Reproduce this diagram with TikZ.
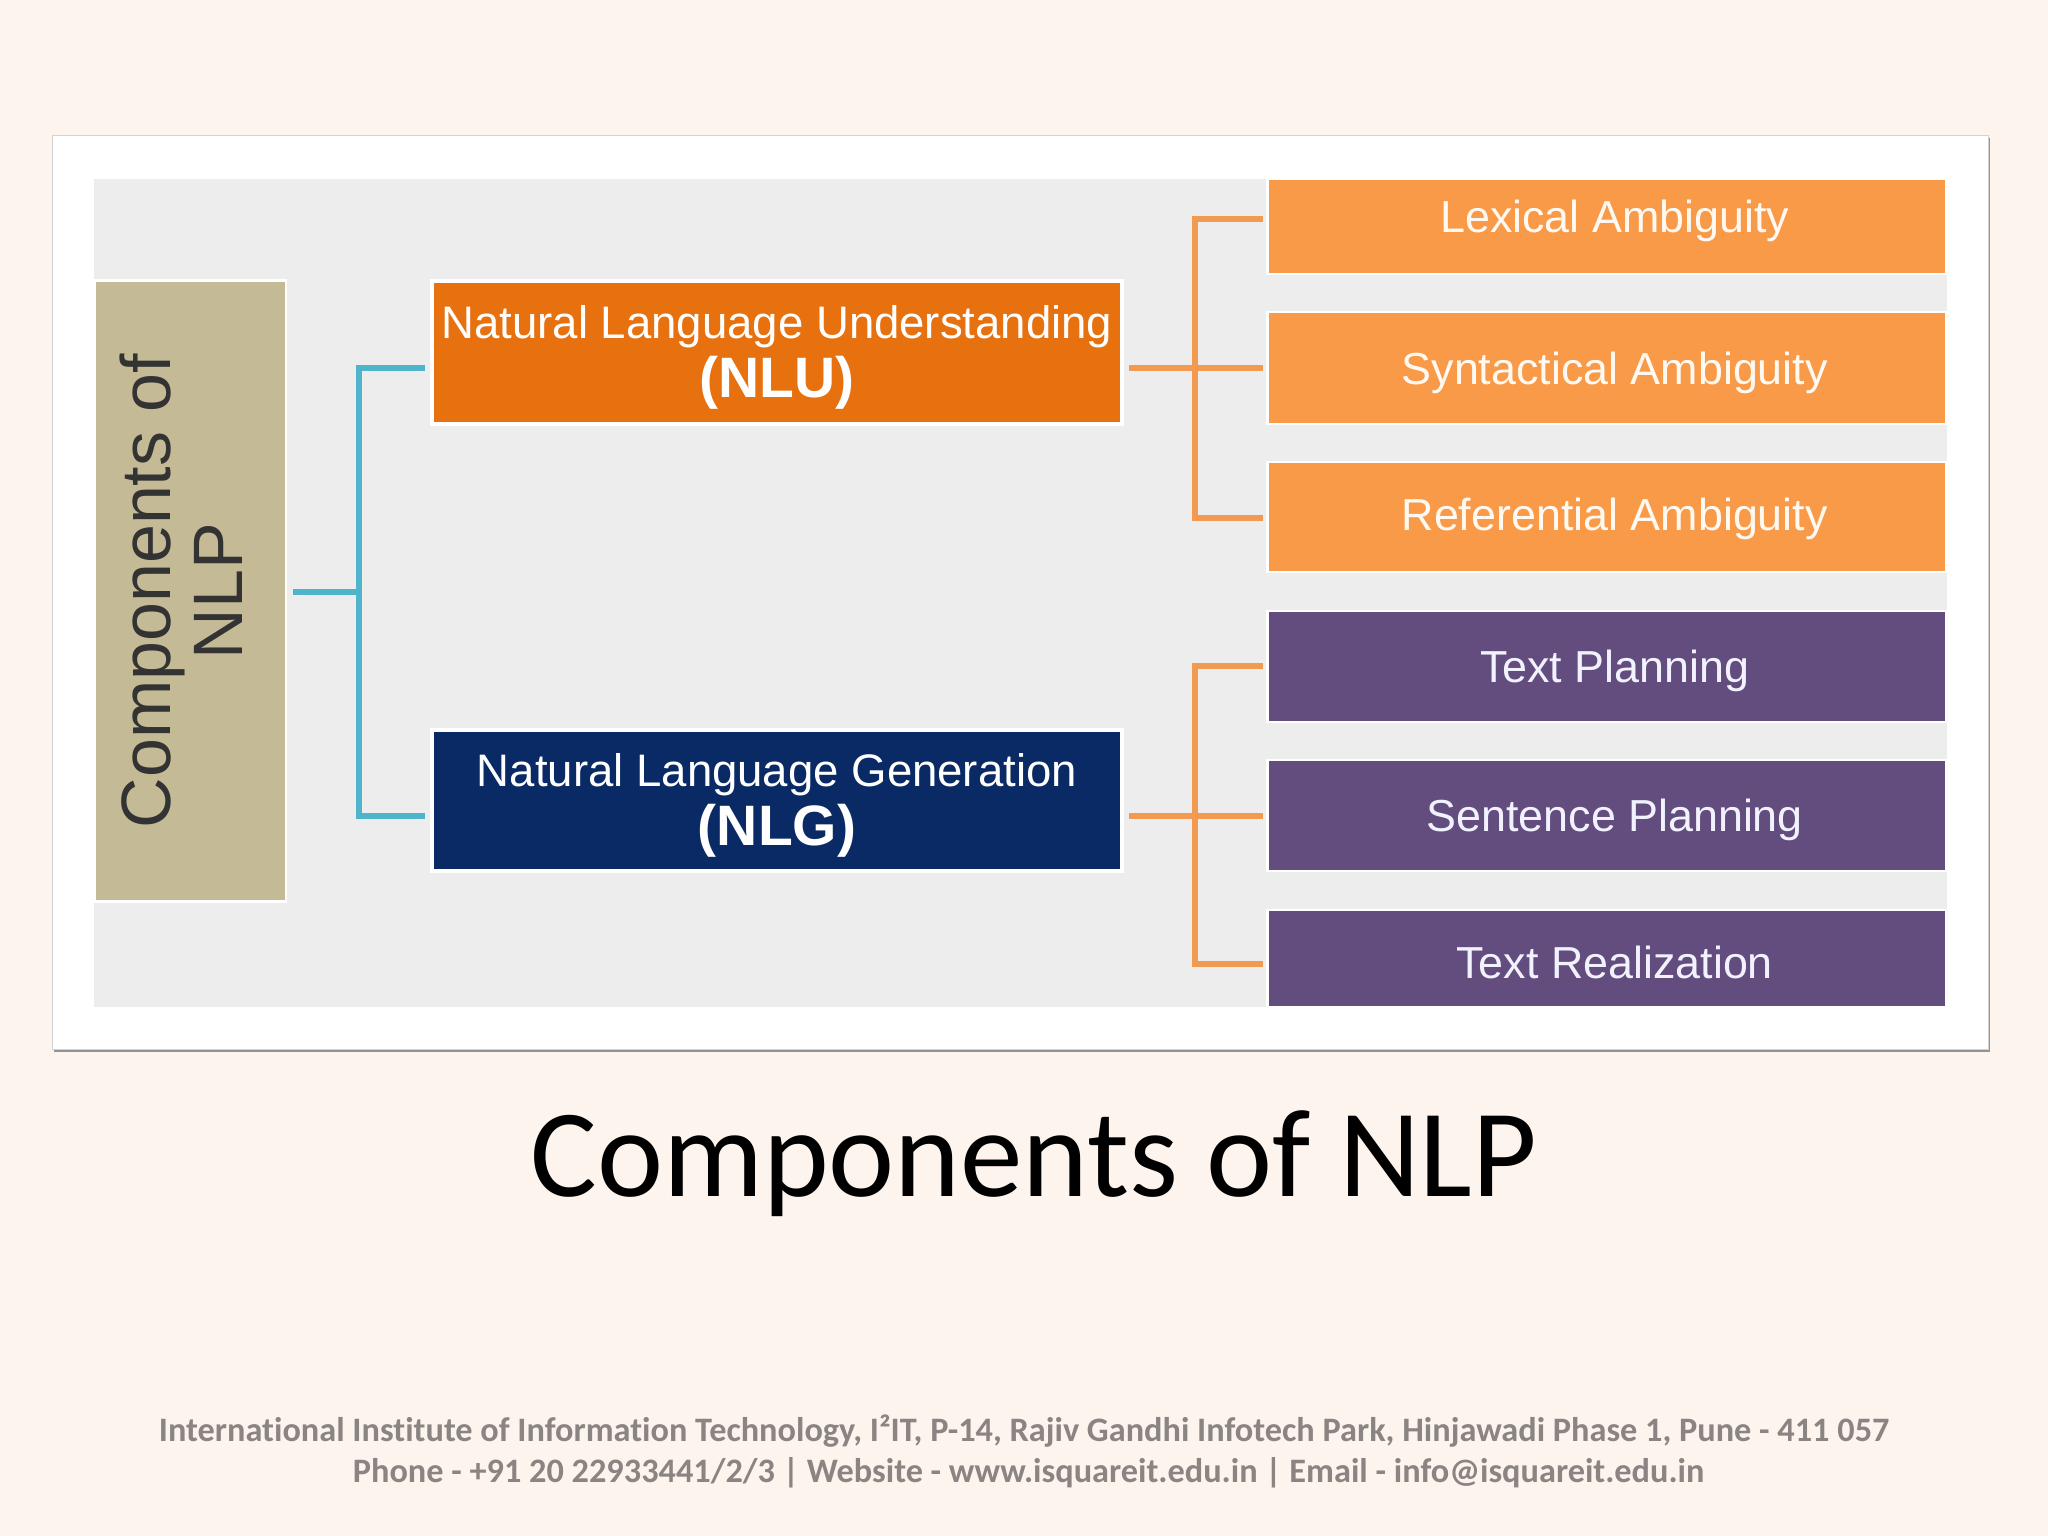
\documentclass[tikz,border=0pt]{standalone}
\usepackage{fontspec}
\setmainfont[Ligatures=CommonOff]{Carlito}
\newfontfamily\boxfont{Liberation Sans}
\usetikzlibrary{shadows,positioning}
\definecolor{pagebg}{HTML}{FEF4EE}
\definecolor{panelgrey}{HTML}{EDEDEE}
\definecolor{tan}{HTML}{C4BB96}
\definecolor{nluorange}{HTML}{E8710F}
\definecolor{nlgblue}{HTML}{0A2A66}
\definecolor{ambiorange}{HTML}{F89A48}
\definecolor{planpurple}{HTML}{634D7E}
\definecolor{tealline}{HTML}{4FB3CB}
\definecolor{orangeline}{HTML}{F39A52}
\definecolor{footgrey}{HTML}{8A8582}
\newcommand{\shortname}[1]{{\fontsize{16.2}{18.4}\selectfont\textbf{(#1)}}}

\begin{document}
\begin{tikzpicture}[x=0.01cm,y=-0.01cm,
  card/.style={rectangle,fill=white,draw=gray!35,line width=0.3pt,general shadow={fill=gray!85,shadow xshift=0.4pt,shadow yshift=-0.7pt},inner sep=0pt},
  mainbox/.style={rectangle,draw=white,line width=1pt,outer sep=2pt,inner sep=0pt,text=white,align=center,minimum width=6.9cm,font=\boxfont\fontsize{12.95}{15.4}\selectfont},
  ambi/.style={rectangle,fill=ambiorange,draw=white,line width=0.8pt,outer sep=1.5pt,inner sep=0pt,text=white!95!orange,minimum width=6.78cm,execute at begin node={\hspace*{4.4pt}},font=\boxfont\fontsize{12.75}{14}\selectfont},
  plan/.style={ambi,fill=planpurple,text=white!95!blue},
  midtext/.style={text height=20.4pt,text depth=11.2pt},
  tree/.style={tealline,line width=1.6pt},
  branch/.style={orangeline,line width=1.6pt}]
\useasboundingbox (0,0) rectangle (2048,1536);
\fill[pagebg] (0,0) rectangle (2048,1536);

\node[card,minimum width=19.345cm,minimum height=9.13cm] (frame) at (1020.75,592.5) {};
\node[rectangle,fill=panelgrey,inner sep=0pt,minimum width=18.51cm,minimum height=8.28cm] (panel) at (1020.5,593) {};

\node[rectangle,rotate=90,fill=tan,draw=white,line width=0.8pt,outer sep=2pt,inner sep=0pt,align=center,text=black!80,minimum width=6.2cm,minimum height=1.91cm,font=\boxfont\fontsize{19.9}{20.5}\selectfont] (comp) at (190.5,591) {Components of\\\rule[-5.2pt]{0pt}{0pt}NLP};

\node[mainbox,fill=nluorange,minimum height=1.43cm] (nlu) at (777,352.5) {\rule{0pt}{12.3pt}Natural Language Understanding\\[1.5pt]\shortname{NLU}};
\node[mainbox,fill=nlgblue,minimum height=1.41cm] (nlg) at (777,800.5) {\rule{0pt}{12.3pt}Natural Language Generation\\[1.5pt]\shortname{NLG}};

\node[ambi,minimum height=0.95cm,text height=15.3pt,text depth=11.7pt] (lex) at (1607,226.5) {Lexical Ambiguity};
\node[ambi,midtext,minimum height=1.12cm] (syn) at (1607,368) {Syntactical Ambiguity};
\node[ambi,minimum height=1.10cm,text height=19.55pt,text depth=11.75pt] (ref) at (1607,517) {Referential Ambiguity};
\node[plan,midtext,minimum height=1.11cm] (tp) at (1607,666.5) {Text Planning};
\node[plan,midtext,minimum height=1.11cm] (sp) at (1607,815.5) {Sentence Planning};
\node[plan,minimum height=0.97cm,text height=19.6pt,text depth=8pt] (tr) at (1607,958.5) {Text Realization};

\coordinate (tealup) at (359,368);
\coordinate (tealmid) at (359,592);
\coordinate (tealdown) at (359,816);
\coordinate (lexjoin) at (1195,219);
\coordinate (nlujoin) at (1195,368);
\coordinate (refjoin) at (1195,518);
\coordinate (tpjoin) at (1195,666);
\coordinate (nlgjoin) at (1195,816);
\coordinate (trjoin) at (1195,964);

\draw[tree] (comp.south |- tealmid) -- (tealmid);
\draw[tree] (nlu.west |- tealup) -- (tealup) -- (tealdown) -- (nlg.west |- tealdown);

\draw[branch] (nlu.east |- nlujoin) -- (syn.west |- nlujoin);
\draw[branch] (lex.west |- lexjoin) -- (lexjoin) -- (refjoin) -- (ref.west |- refjoin);
\draw[branch] (nlg.east |- nlgjoin) -- (sp.west |- nlgjoin);
\draw[branch] (tp.west |- tpjoin) -- (tpjoin) -- (trjoin) -- (tr.west |- trjoin);

\node[inner sep=0pt,font=\fontsize{35.6}{40}\selectfont] (title) at (1034,1164) {Components of NLP};
\node[inner sep=0pt,align=center,text=footgrey,font=\fontsize{9.75}{11.7}\selectfont\bfseries] (foot) at (1024,1451) {International Institute of Information Technology, I²IT, P-14, Rajiv Gandhi Infotech Park, Hinjawadi Phase 1, Pune - 411 057\\\hspace*{2.6pt}Phone - +91 20 22933441/2/3 | Website - www.isquareit.edu.in | Email - info@isquareit.edu.in};
\end{tikzpicture}
\end{document}
